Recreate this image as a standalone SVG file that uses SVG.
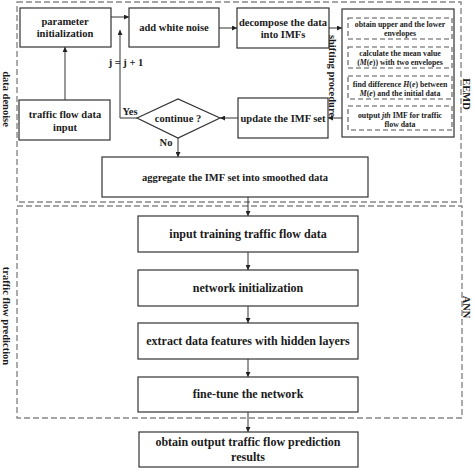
<svg xmlns="http://www.w3.org/2000/svg" width="474" height="470" viewBox="0 0 474 470">
<defs>
<marker id="ah" viewBox="0 0 8 8" refX="8" refY="4" markerWidth="5" markerHeight="5" orient="auto" markerUnits="userSpaceOnUse">
<path d="M0,0 L8,4 L0,8 z" fill="#222"/>
</marker>
<style>
.box{fill:#fff;stroke:#333;stroke-width:1.2}
.grp{fill:none;stroke:#888;stroke-width:1.4;stroke-dasharray:6,3}
.sub{fill:none;stroke:#555;stroke-width:1.1;stroke-dasharray:5,3}
.t{font-family:"Liberation Serif","Times New Roman",serif;font-weight:bold;font-size:10.5px;fill:#1a1a1a;text-anchor:middle}
.b{font-size:12px}
.s{font-family:"Liberation Serif","Times New Roman",serif;font-weight:bold;font-size:7.8px;fill:#1a1a1a;text-anchor:middle}
.c{fill:none;stroke:#333;stroke-width:1;marker-end:url(#ah)}
.l{fill:none;stroke:#333;stroke-width:1}
</style>
</defs>
<rect width="474" height="470" fill="#fff"/>

<g id="group-eemd">
<rect class="grp" x="17" y="2" width="444" height="200"/>
<text class="t" transform="translate(463,94) rotate(90)">EEMD</text>
<text class="t" transform="translate(3,99) rotate(90)">data denoise</text>
</g>
<g id="group-ann">
<rect class="grp" x="17" y="206" width="445" height="212"/>
<text class="t" transform="translate(463,307) rotate(90)">ANN</text>
<text class="t" transform="translate(3,316) rotate(90)">traffic flow prediction</text>
</g>

<g id="connectors">
<path class="c" d="M65,100 V47"/>
<path class="c" d="M111,17 H129"/>
<path class="l" d="M137,118 H120"/>
<path class="c" d="M120,118 V30"/>
<path class="c" d="M219,28 H237"/>
<path class="c" d="M329,28 H342"/>
<path class="c" d="M342,118 H328"/>
<path class="c" d="M238,118 H220"/>
<path class="c" d="M400,39 V47"/>
<path class="c" d="M400,68 V76"/>
<path class="c" d="M400,99 V106"/>
<path class="c" d="M178,138 V157"/>
<path class="c" d="M248,197 V216"/>
<path class="c" d="M248,252 V270"/>
<path class="c" d="M248,306 V323"/>
<path class="c" d="M248,359 V377"/>
<path class="c" d="M248,412 V432"/>
<text class="t" x="126" y="66">j = j + 1</text>
<text class="t" x="130" y="115">Yes</text>
<text class="t" x="166" y="146">No</text>
</g>

<g id="param-init">
<rect class="box" x="20" y="8" width="91" height="39"/>
<text class="t" x="65" y="25">parameter</text>
<text class="t" x="65" y="37">initialization</text>
</g>
<g id="add-noise">
<rect class="box" x="129" y="8" width="90" height="39"/>
<text class="t" x="174" y="31">add white noise</text>
</g>
<g id="decompose">
<rect class="box" x="237" y="8" width="92" height="40"/>
<text class="t" x="283" y="26" font-size="10px">decompose the data</text>
<text class="t" x="283" y="38">into IMFs</text>
</g>
<g id="shifting">
<rect class="box" x="342" y="9" width="112" height="128"/>
<text class="t" transform="translate(329,76) rotate(90)">shifting procedure</text>
<rect class="sub" x="348" y="18" width="104" height="21"/>
<text class="s" x="400" y="27">obtain upper and the lower</text>
<text class="s" x="400" y="36">envelopes</text>
<rect class="sub" x="348" y="47" width="104" height="21"/>
<text class="s" x="400" y="56">calculate the mean value</text>
<text class="s" x="400" y="65">(<tspan font-style="italic">M</tspan>(<tspan font-style="italic">e</tspan>)) with two envelopes</text>
<rect class="sub" x="348" y="76" width="104" height="23"/>
<text class="s" x="400" y="87">find difference <tspan font-style="italic">H</tspan>(<tspan font-style="italic">e</tspan>) between</text>
<text class="s" x="400" y="96"><tspan font-style="italic">M</tspan>(<tspan font-style="italic">e</tspan>) and the initial data</text>
<rect class="sub" x="348" y="106" width="104" height="24"/>
<text class="s" x="400" y="118">output  <tspan font-style="italic">jth</tspan> IMF for traffic</text>
<text class="s" x="400" y="127">flow data</text>
</g>
<g id="update">
<rect class="box" x="238" y="98" width="90" height="40"/>
<text class="t" x="283" y="122">update the IMF set</text>
</g>
<g id="traffic-input">
<rect class="box" x="19" y="100" width="91" height="40"/>
<text class="t" x="65" y="118">traffic flow data</text>
<text class="t" x="65" y="131">input</text>
</g>
<g id="continue">
<polygon class="box" points="137,118 178,99 220,118 178,138"/>
<text class="t" x="178" y="122">continue ?</text>
</g>
<g id="aggregate">
<rect class="box" x="102" y="157" width="266" height="40"/>
<text class="t" x="235" y="181">aggregate the IMF set into smoothed data</text>
</g>
<g id="input-training">
<rect class="box" x="138" y="216" width="220" height="36"/>
<text class="t b" x="248" y="238">input training traffic flow data</text>
</g>
<g id="network-init">
<rect class="box" x="138" y="270" width="220" height="36"/>
<text class="t b" x="248" y="292">network initialization</text>
</g>
<g id="extract">
<rect class="box" x="138" y="323" width="220" height="36"/>
<text class="t b" x="248" y="345">extract data features with hidden layers</text>
</g>
<g id="fine-tune">
<rect class="box" x="138" y="377" width="220" height="35"/>
<text class="t b" x="248" y="398">fine-tune the network</text>
</g>
<g id="output">
<rect class="box" x="139" y="432" width="219" height="35"/>
<text class="t b" x="248" y="446">obtain output traffic flow prediction</text>
<text class="t b" x="248" y="461">results</text>
</g>
</svg>
